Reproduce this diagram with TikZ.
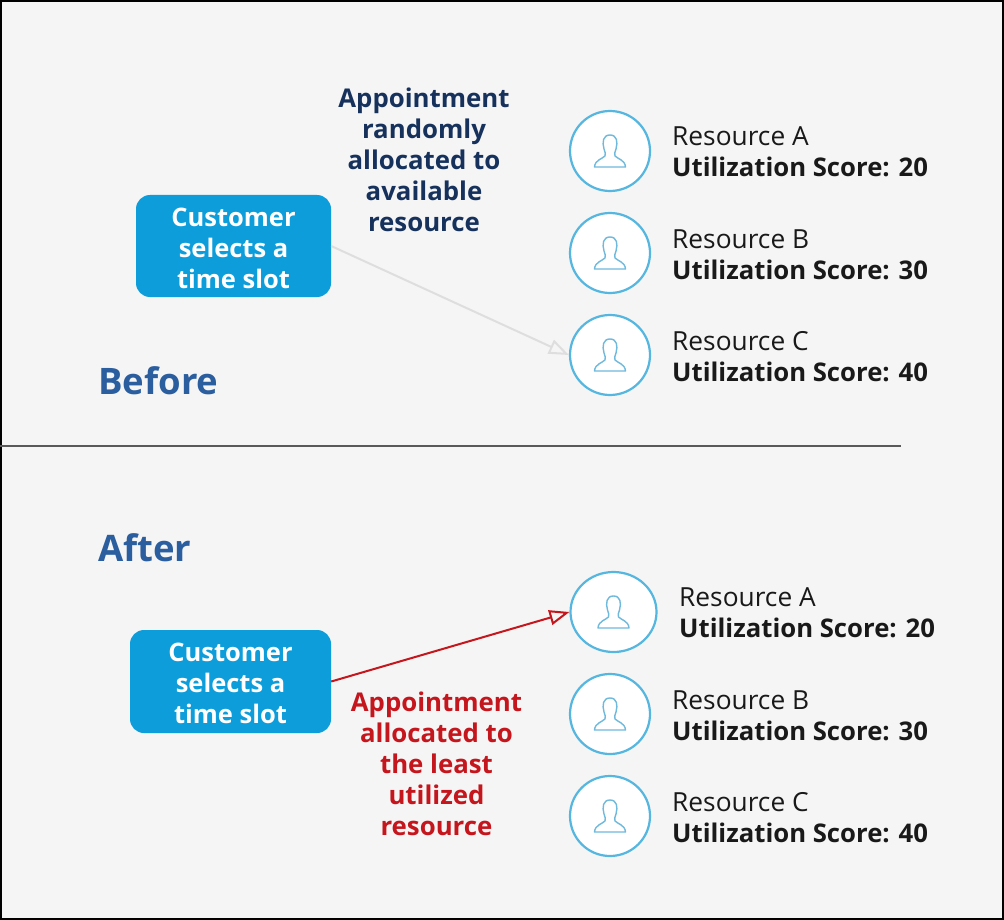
\documentclass[tikz,border=0pt]{standalone}
\usepackage{fontspec}
\setmainfont{Open Sans}
\usepackage{tikz}
\usetikzlibrary{positioning, arrows.meta, shapes.geometric}
\definecolor{pagebg}{HTML}{F5F5F5}
\definecolor{skyblue}{HTML}{0C9DDA}
\definecolor{ringblue}{HTML}{55B6DF}
\definecolor{iconblue}{HTML}{6FB9DC}
\definecolor{navytext}{HTML}{16325C}
\definecolor{headblue}{HTML}{2A5E9E}
\definecolor{redtext}{HTML}{C4161C}
\definecolor{greyline}{HTML}{DEDEDE}
\newcommand{\scoreline}[1]{{\fontsize{25.7}{31}\selectfont\bfseries Utilization Score: #1}}

\begin{document}
\begin{tikzpicture}
            [x=1pt, y=-1pt,
             resource/.style={ellipse, draw=ringblue, line width=2.2pt, fill=white, inner sep=0pt,
                              minimum width=80pt, minimum height=80pt},
             slotbox/.style={rectangle, rounded corners=14pt, fill=skyblue, inner sep=0pt},
             slottext/.style={text=white, align=center, inner sep=0pt,
                              font=\fontsize{25.5}{31}\selectfont\bfseries},
             restext/.style={align=left, anchor=west, inner sep=0pt, text=black!90,
                             font=\fontsize{26.3}{31}\selectfont},
             note/.style={align=center, inner sep=0pt, font=\fontsize{25.8}{31}\selectfont\bfseries},
             heading/.style={anchor=west, inner sep=0pt, text=headblue,
                             font=\fontsize{36.5}{40}\selectfont\bfseries},
             arrowline/.style={-{Triangle[open, length=20pt, width=15pt]}, line width=2pt},
             person/.pic={
                \draw[iconblue, line width=1.4pt, line join=round]
                    (-15.5,16) -- (15.5,16) .. controls (15,9) and (8,8) .. (5,5)
                    .. controls (4,3) and (5,1) .. (6,-2) .. controls (8,-9) and (7,-16) .. (0,-16)
                    .. controls (-7,-16) and (-8,-9) .. (-6,-2) .. controls (-5,1) and (-4,3) .. (-5,5)
                    .. controls (-8,8) and (-15,9) .. (-15.5,16) -- cycle;
             }]
            % page
            \path[fill=pagebg, draw=black, line width=2pt] (1,1) rectangle (1003,919);
            \useasboundingbox (0,0) rectangle (1004,920);
            \coordinate (ruleL) at (0,446);
            \coordinate (ruleR) at (901,446);
            \draw[black!65, line width=1.6pt] (ruleL) -- (ruleR);

            % before
            \node[slotbox, minimum width=195pt, minimum height=102pt] (slotB) at (233.5,246) {};
            \node[slottext] (slotBtext) at (233.5,248) {Customer\\selects a\\time slot};
            \node[resource] (resBA) at (610,151) {};
            \node[resource] (resBB) at (610,253) {};
            \node[resource] (resBC) at (610,355) {};
            \foreach \n in {resBA, resBB, resBC} \pic at (\n) {person};
            \node[restext] (txtBA) at (672,151.5) {Resource A\\\scoreline{20}};
            \node[restext] (txtBB) at (672,254.5) {Resource B\\\scoreline{30}};
            \node[restext] (txtBC) at (672,356.5) {Resource C\\\scoreline{40}};
            \node[note, text=navytext] (noteB) at (424,160) {Appointment\\randomly\\allocated to\\available\\resource};
            \node[heading] (before) at (98,381) {Before};
            \draw[arrowline, greyline] (slotB.east) -- (resBC.west);

            % after
            \node[slotbox, minimum width=201pt, minimum height=103pt] (slotA) at (230.5,681.5) {};
            \node[slottext] (slotAtext) at (230.5,683) {Customer\\selects a\\time slot};
            \node[resource, minimum width=86pt] (resAA) at (613.5,612) {};
            \node[resource] (resAB) at (610,714) {};
            \node[resource] (resAC) at (610,816) {};
            \foreach \n in {resAA, resAB, resAC} \pic at (\n) {person};
            \node[restext] (txtAA) at (679,612.5) {Resource A\\\scoreline{20}};
            \node[restext] (txtAB) at (672,715.5) {Resource B\\\scoreline{30}};
            \node[restext] (txtAC) at (672,817.5) {Resource C\\\scoreline{40}};
            \node[note, text=redtext] (noteA) at (436.5,764) {Appointment\\allocated to\\the least\\utilized\\resource};
            \node[heading] (after) at (98,548) {After};
            \draw[arrowline, redtext] (slotA.east) -- (resAA.west);
        \end{tikzpicture}
\end{document}
